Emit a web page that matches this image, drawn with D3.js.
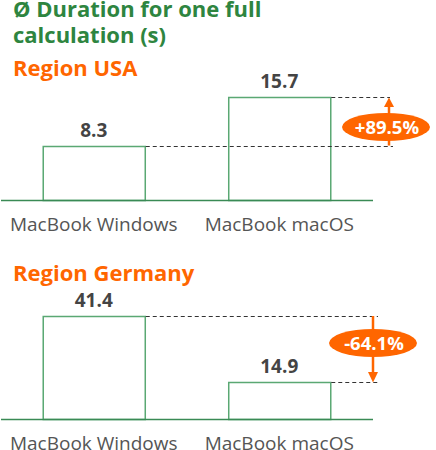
<!DOCTYPE html>
<html>
<head>
<meta charset="utf-8">
<script src="https://cdn.jsdelivr.net/npm/d3@7"></script>
<style>
  html, body { margin: 0; padding: 0; background: #fff; }
  svg { display: block; font-family: "Open Sans", sans-serif; }
</style>
</head>
<body>
<div id="chart"></div>
<script>
// data
const categories = ['MacBook Windows', 'MacBook macOS'];
const usaValues = [8.3, 15.7];
const germanyValues = [41.4, 14.9];
const usaChange = '+89.5%';
const germanyChange = '-64.1%';
const titleLines = ['Ø Duration for one full', 'calculation (s)'];

const W = 436, H = 450;
const green = '#2e8540', barGreen = '#5aa873', orange = '#ff6600';

const svg = d3.select('#chart').append('svg').attr('width', W).attr('height', H);

// title
svg.append('text')
    .attr('x', 13).attr('y', 17)
    .attr('fill', green).attr('font-size', 22).attr('font-weight', 700)
    .selectAll('tspan').data(titleLines).join('tspan')
    .attr('x', 13).attr('dy', (d, i) => i ? 26 : 0)
    .text(d => d);

const x = d3.scaleBand().domain(categories).range([1, 372])
    .paddingInner(0.45).paddingOuter(0.225);

const drawPanel = (opts) => {
    const { name, nameY, baseline, values, change, arrowX, dashEnd, badgeX, badgeY } = opts;
    const y = d3.scaleLinear().domain([0, d3.max(values)]).range([baseline, baseline - 103]);
    const g = svg.append('g');

    g.append('text')
        .attr('x', 13).attr('y', nameY)
        .attr('fill', orange).attr('font-size', 22).attr('font-weight', 700)
        .text(name);

    // bars
    g.selectAll('rect').data(values).join('rect')
        .attr('x', (d, i) => x(categories[i]) + 0.5)
        .attr('y', d => Math.round(y(d)) + 0.5)
        .attr('width', x.bandwidth())
        .attr('height', d => baseline - Math.round(y(d)))
        .attr('fill', 'none').attr('stroke', barGreen).attr('stroke-width', 1.5);

    // axis line + tick labels
    const axis = g.append('g').attr('transform', `translate(0,${baseline + 0.5})`)
        .call(d3.axisBottom(x).tickSize(0).tickPadding(0).tickSizeOuter(0));
    axis.select('.domain').attr('stroke', '#3a8a55').attr('stroke-width', 1.5)
        .attr('d', 'M1,0H373');
    axis.selectAll('text')
        .attr('dy', null).attr('y', 30.5)
        .attr('fill', '#555').attr('font-size', 19)
        .attr('font-family', '"Open Sans", sans-serif');

    // value labels
    g.selectAll('.val').data(values).join('text')
        .attr('class', 'val')
        .attr('x', (d, i) => x(categories[i]) + x.bandwidth() / 2)
        .attr('y', d => y(d) - 9)
        .attr('text-anchor', 'middle')
        .attr('fill', '#444').attr('font-size', 19).attr('font-weight', 700)
        .text(d => d.toFixed(1));

    // dashed reference lines
    g.selectAll('.ref').data(values).join('line')
        .attr('class', 'ref')
        .attr('x1', (d, i) => x(categories[i]) + x.bandwidth() + 1)
        .attr('x2', (d, i) => dashEnd[i])
        .attr('y1', d => Math.round(y(d)) + 0.5)
        .attr('y2', d => Math.round(y(d)) + 0.5)
        .attr('stroke', '#333').attr('stroke-width', 1)
        .attr('stroke-dasharray', '4,3');

    // arrow from first value to second
    const y0 = y(values[0]), y1 = y(values[1]);
    const dir = y1 < y0 ? 1 : -1;
    g.append('line')
        .attr('x1', arrowX).attr('x2', arrowX)
        .attr('y1', y0).attr('y2', y1 + dir * 8)
        .attr('stroke', orange).attr('stroke-width', 2.5);
    g.append('path')
        .attr('d', `M${arrowX},${y1 + 0.5}L${arrowX - 5},${y1 + dir * 10}L${arrowX + 5},${y1 + dir * 10}Z`)
        .attr('fill', orange);

    // badge
    g.append('ellipse')
        .attr('cx', badgeX).attr('cy', badgeY).attr('rx', 44).attr('ry', 14)
        .attr('fill', orange);
    g.append('text')
        .attr('x', badgeX + 1).attr('y', badgeY + 6.5)
        .attr('text-anchor', 'middle')
        .attr('fill', '#fff').attr('font-size', 18.5).attr('font-weight', 700)
        .text(change);
};

drawPanel({
    name: 'Region USA', nameY: 76, baseline: 200,
    values: usaValues, change: usaChange,
    arrowX: 389, dashEnd: [393, 390], badgeX: 386, badgeY: 127
});

drawPanel({
    name: 'Region Germany', nameY: 281, baseline: 419,
    values: germanyValues, change: germanyChange,
    arrowX: 373, dashEnd: [378, 378], badgeX: 373, badgeY: 343
});
</script>
</body>
</html>
